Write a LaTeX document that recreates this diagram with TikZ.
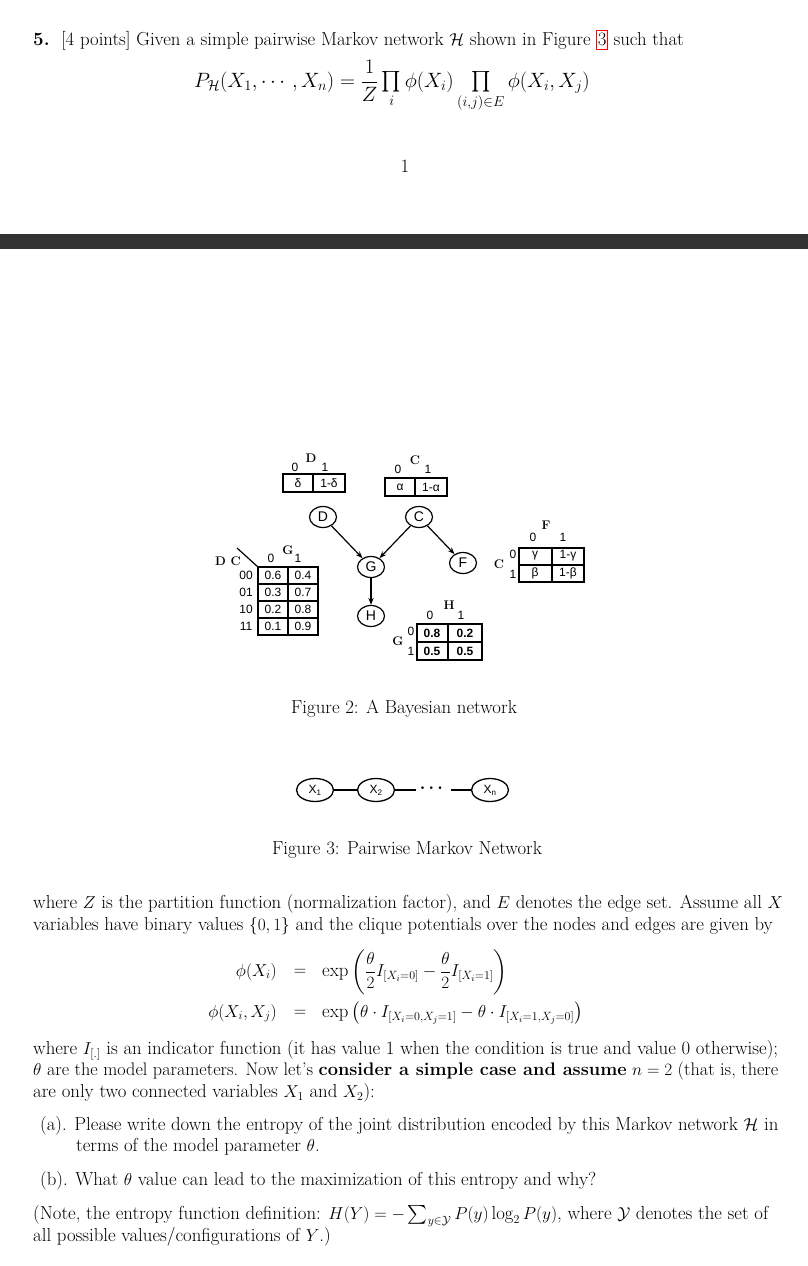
\documentclass[tikz,border=0pt]{standalone}
\usepackage{amsmath,amssymb}
\usepackage{fontspec}
\newfontfamily\arial{Liberation Sans}
\usetikzlibrary{shapes.geometric,arrows.meta}
\tikzset{
 bn/.style={ellipse,draw,line width=1.2pt,minimum width=27pt,minimum height=21pt,inner sep=0pt,font=\arial\fontsize{14}{14}\selectfont},
 mn/.style={ellipse,draw,line width=1.3pt,minimum width=37pt,minimum height=23pt,inner sep=0pt,font=\arial\fontsize{12}{12}\selectfont},
 cell/.style={font=\arial\fontsize{12}{12}\selectfont,inner sep=0pt},
 hd/.style={font=\fontsize{12.5}{12.5}\selectfont\bfseries,inner sep=0pt},
 tl/.style={anchor=west,inner sep=0pt,font=\fontsize{18.8}{20}\selectfont},
 tb/.style={line width=1.2pt},
 arr/.style={-{Stealth[length=7pt]},line width=1.2pt}
}
\begin{document}
\begin{tikzpicture}[x=1pt,y=-1pt]
\useasboundingbox (0,0) rectangle (808,1266);
\fill[white] (0,0) rectangle (808,1266);
\fill[black!80] (0,234) rectangle (808,249);
% header
\node[tl] (t1) at (33,40) {\textbf{5.}\ \ [4 points] Given a simple pairwise Markov network $\mathcal{H}$ shown in Figure \fcolorbox{red}{white}{\kern-2pt3\kern-2pt} such that};
\node[inner sep=0pt,font=\fontsize{20.5}{22}\selectfont] (eq0) at (392,86) {$P_{\mathcal{H}}(X_1,\cdots,X_n)=\dfrac{1}{Z}\prod\limits_i\phi(X_i)\prod\limits_{(i,j)\in E}\phi(X_i,X_j)$};
\node[inner sep=0pt,font=\fontsize{18.8}{22}\selectfont] (pg) at (405,166) {1};
% Bayesian network
\node[bn] (D) at (323,517) {D};
\node[bn] (C) at (419,517) {C};
\node[bn] (G) at (371,567) {G};
\node[bn] (F) at (463,563) {F};
\node[bn] (H) at (371,616) {H};
\draw[arr] (D) -- (G);
\draw[arr] (C) -- (G);
\draw[arr] (C) -- (F);
\draw[arr] (G) -- (H);
% D table
\draw[tb] (283,474) rectangle (345,492); \draw[tb] (313,474) -- (313,492);
\node[cell] (d1) at (298,483) {δ}; \node[cell] (d2) at (329,483) {1-δ};
\node[hd] (dD) at (311,458) {D}; \node[cell] (d0h) at (295,467) {0}; \node[cell] (d1h) at (325,467) {1};
% C table
\draw[tb] (385,478) rectangle (447,496); \draw[tb] (415,478) -- (415,496);
\node[cell] (c1) at (400,487) {α}; \node[cell] (c2) at (431,487) {1-α};
\node[hd] (cC) at (415,460) {C}; \node[cell] (c0h) at (398,469) {0}; \node[cell] (c1h) at (428,469) {1};
% F table
\draw[tb] (519,548) rectangle (584,582); \draw[tb] (552,548) -- (552,582); \draw[tb] (519,565) -- (584,565);
\node[cell] (f1) at (535,556) {γ}; \node[cell] (f2) at (568,556) {1-γ};
\node[cell] (f3) at (535,573) {β}; \node[cell] (f4) at (568,573) {1-β};
\node[hd] (fF) at (546,525) {F}; \node[cell] (f0h) at (533,537) {0}; \node[cell] (f1h) at (563,537) {1};
\node[hd] (fC) at (499,564) {C}; \node[cell] (fr0) at (513,554) {0}; \node[cell] (fr1) at (513,574) {1};
% G table
\draw[tb] (258,567) rectangle (318,635); \draw[tb] (288,567) -- (288,635);
\foreach \y in {584,601,618} \draw[tb] (258,\y) -- (318,\y);
\foreach \r/\a/\b/\y in {00/0.6/0.4/575.5,01/0.3/0.7/592.5,10/0.2/0.8/609.5,11/0.1/0.9/626.5}{
 \node[cell] at (246,\y) {\r}; \node[cell] at (273,\y) {\a}; \node[cell] at (303,\y) {\b};}
\node[hd] (gG) at (288,550) {G}; \node[cell] (g0h) at (271,558) {0}; \node[cell] (g1h) at (298,558) {1};
\node[hd] (gDC) at (228,561) {D C};
\draw[tb] (237,548) -- (258,567);
% H table
\draw[tb] (417,624) rectangle (482,660); \draw[tb] (448,624) -- (448,660); \draw[tb] (417,642) -- (482,642);
\node[cell,font=\arial\bfseries\fontsize{12}{12}\selectfont] at (432,633) {0.8};
\node[cell,font=\arial\bfseries\fontsize{12}{12}\selectfont] at (465,633) {0.2};
\node[cell,font=\arial\bfseries\fontsize{12}{12}\selectfont] at (432,651) {0.5};
\node[cell,font=\arial\bfseries\fontsize{12}{12}\selectfont] at (465,651) {0.5};
\node[hd] (hH) at (449,605) {H}; \node[cell] (h0h) at (430,615) {0}; \node[cell] (h1h) at (461,615) {1};
\node[hd] (hG) at (398,641) {G}; \node[cell] (hr0) at (411,631) {0}; \node[cell] (hr1) at (411,651) {1};
\node[inner sep=0pt,font=\fontsize{18.8}{22}\selectfont] (cap2) at (404,709) {Figure 2: A Bayesian network};
% Markov network
\node[mn] (X1) at (315,790) {X$_{\text{1}}$};
\node[mn] (X2) at (376,790) {X$_{\text{2}}$};
\node[mn] (Xn) at (490,790) {X$_{\text{n}}$};
\node[inner sep=0pt,font=\bfseries\fontsize{16}{16}\selectfont] (dots) at (433,788) {$\boldsymbol{\cdots}$};
\coordinate (la) at (416,790); \coordinate (lb) at (451,790);
\draw[line width=1.3pt] (X1) -- (X2); \draw[line width=1.3pt] (X2) -- (la); \draw[line width=1.3pt] (lb) -- (Xn);
\node[inner sep=0pt,font=\fontsize{18.8}{22}\selectfont] (cap3) at (407,850) {Figure 3: Pairwise Markov Network};
% body
\node[tl] (b1) at (33,904) {where $Z$ is the partition function (normalization factor), and $E$ denotes the edge set. Assume all $X$};
\node[tl] (b2) at (33,926) {variables have binary values $\{0,1\}$ and the clique potentials over the nodes and edges are given by};
\node[inner sep=0pt,anchor=east,font=\fontsize{18.8}{22}\selectfont] (e1l) at (277,972) {$\phi(X_i)$};
\node[inner sep=0pt,font=\fontsize{18.8}{22}\selectfont] (e1m) at (300,972) {$=$};
\node[inner sep=0pt,anchor=west,font=\fontsize{18.8}{22}\selectfont] (e1r) at (322,972) {$\exp\left(\dfrac{\theta}{2}I_{[X_i=0]}-\dfrac{\theta}{2}I_{[X_i=1]}\right)$};
\node[inner sep=0pt,anchor=east,font=\fontsize{18.8}{22}\selectfont] (e2l) at (277,1013) {$\phi(X_i,X_j)$};
\node[inner sep=0pt,font=\fontsize{18.8}{22}\selectfont] (e2m) at (300,1013) {$=$};
\node[inner sep=0pt,anchor=west,font=\fontsize{18.8}{22}\selectfont] (e2r) at (322,1013) {$\exp\big(\theta\cdot I_{[X_i=0,X_j=1]}-\theta\cdot I_{[X_i=1,X_j=0]}\big)$};
\node[tl] (b3) at (33,1050) {where $I_{[.]}$ is an indicator function (it has value 1 when the condition is true and value 0 otherwise);};
\node[tl,font=\fontsize{18.2}{20}\selectfont] (b4) at (33,1071) {$\theta$ are the model parameters. Now let's \textbf{consider a simple case and assume} $n=2$ (that is, there};
\node[tl] (b5) at (33,1093) {are only two connected variables $X_1$ and $X_2$):};
\node[tl] (a1) at (40,1126) {(a). Please write down the entropy of the joint distribution encoded by this Markov network $\mathcal{H}$ in};
\node[tl] (a2) at (76,1147) {terms of the model parameter $\theta$.};
\node[tl] (bb) at (40,1181) {(b). What $\theta$ value can lead to the maximization of this entropy and why?};
\node[tl] (n1) at (33,1216) {(Note, the entropy function definition: $H(Y)=-\sum_{y\in\mathcal{Y}}P(y)\log_2P(y)$, where $\mathcal{Y}$ denotes the set of};
\node[tl] (n2) at (33,1237) {all possible values/configurations of $Y$.)};
\end{tikzpicture}
\end{document}
